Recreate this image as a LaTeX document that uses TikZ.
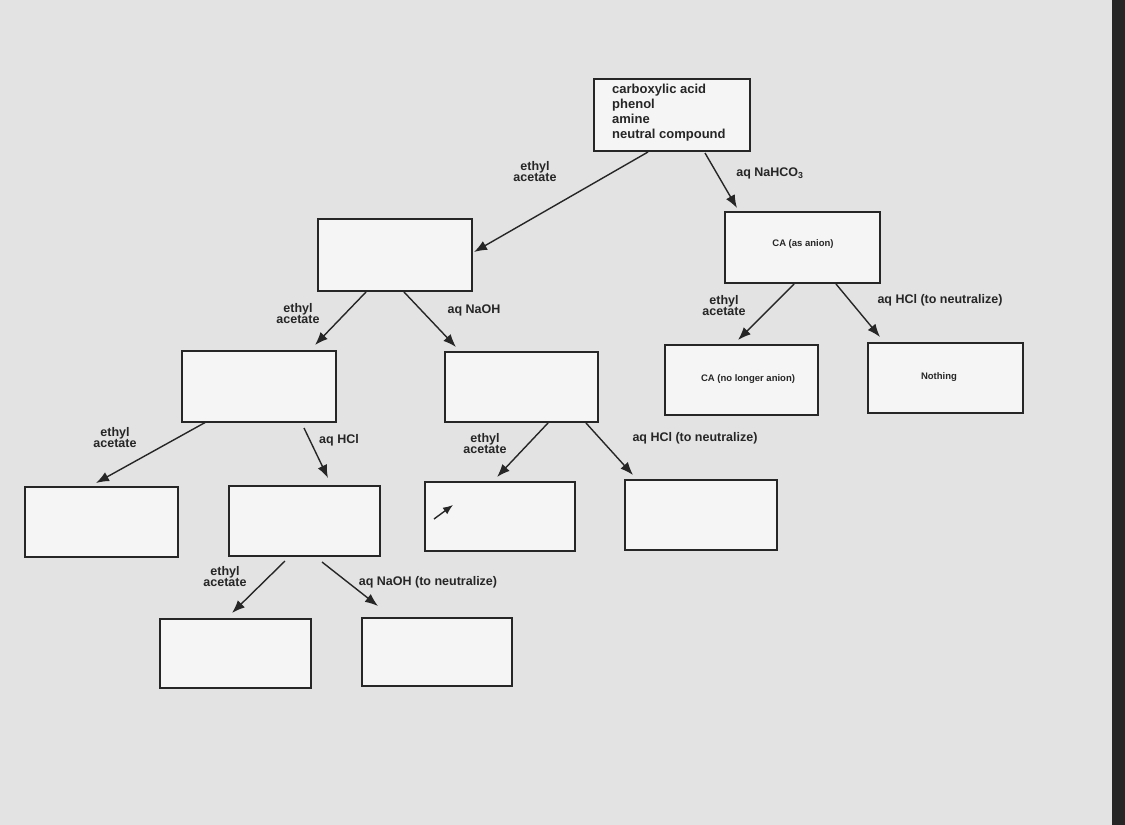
\documentclass[tikz,border=0pt]{standalone}
\usepackage{fontspec}
\setmainfont{Liberation Sans}
\usetikzlibrary{arrows.meta}
\begin{document}
\begin{tikzpicture}[x=1pt,y=-1pt,
 bx/.style={draw=black!85,line width=1.5pt,fill=white!92!gray},
 ar/.style={-{Latex[length=13pt,width=10pt]},line width=1.4pt,black!85},
 lb/.style={font=\fontsize{12.5}{11}\selectfont\bfseries,text=black!85,align=center,inner sep=0pt},
 tn/.style={font=\fontsize{9.5}{8}\selectfont\bfseries,text=black!85,inner sep=0pt}]
\fill[gray!22] (0,0) rectangle (1125,825);
\fill[black!85] (1112,0) rectangle (1125,825);
\draw[bx] (594,79) rectangle (750,151);
\node[lb,align=left,anchor=north west,font=\fontsize{13}{14.8}\selectfont\bfseries] (t) at (612,84) {carboxylic acid\\phenol\\amine\\neutral compound};
\draw[bx] (318,219) rectangle (472,291);
\draw[bx] (725,212) rectangle (880,283);
\node[tn] (b2) at (803,244) {CA (as anion)};
\draw[bx] (182,351) rectangle (336,422);
\draw[bx] (445,352) rectangle (598,422);
\draw[bx] (665,345) rectangle (818,415);
\node[tn] (b5) at (748,379) {CA (no longer anion)};
\draw[bx] (868,343) rectangle (1023,413);
\node[tn] (b6) at (939,377) {Nothing};
\draw[bx] (25,487) rectangle (178,557);
\draw[bx] (229,486) rectangle (380,556);
\draw[bx] (425,482) rectangle (575,551);
\draw[bx] (625,480) rectangle (777,550);
\draw[bx] (160,619) rectangle (311,688);
\draw[bx] (362,618) rectangle (512,686);
\coordinate (a1) at (648,152); \coordinate (a2) at (474,252);
\coordinate (c1) at (705,153); \coordinate (c2) at (737,208);
\coordinate (d1) at (366,292); \coordinate (d2) at (315,345);
\coordinate (e1) at (404,292); \coordinate (e2) at (456,347);
\coordinate (f1) at (794,284); \coordinate (f2) at (738,340);
\coordinate (g1) at (836,284); \coordinate (g2) at (880,337);
\coordinate (h1) at (206,422); \coordinate (h2) at (96,483);
\coordinate (i1) at (304,428); \coordinate (i2) at (328,478);
\coordinate (j1) at (548,423); \coordinate (j2) at (497,477);
\coordinate (k1) at (586,423); \coordinate (k2) at (633,475);
\coordinate (l1) at (285,561); \coordinate (l2) at (232,613);
\coordinate (m1) at (322,562); \coordinate (m2) at (378,606);
\coordinate (n1) at (434,519); \coordinate (n2) at (453,505);
\foreach \p in {a,c,d,e,f,g,h,i,j,k,l,m} \draw[ar] (\p1) -- (\p2);
\draw[ar,-{Latex[length=10pt,width=8pt]}] (n1) -- (n2);
\node[lb] (la) at (535,172) {ethyl\\acetate};
\node[lb] (lc) at (770,173) {aq NaHCO\textsubscript{3}};
\node[lb] (ld) at (298,314) {ethyl\\acetate};
\node[lb] (le) at (474,310) {aq NaOH};
\node[lb] (lf) at (724,306) {ethyl\\acetate};
\node[lb] (lg) at (940,300) {aq HCl (to neutralize)};
\node[lb] (lh) at (115,438) {ethyl\\acetate};
\node[lb] (li) at (339,440) {aq HCl};
\node[lb] (lj) at (485,444) {ethyl\\acetate};
\node[lb] (lk) at (695,438) {aq HCl (to neutralize)};
\node[lb] (ll) at (225,577) {ethyl\\acetate};
\node[lb] (lm) at (428,582) {aq NaOH (to neutralize)};
\end{tikzpicture}
\end{document}
